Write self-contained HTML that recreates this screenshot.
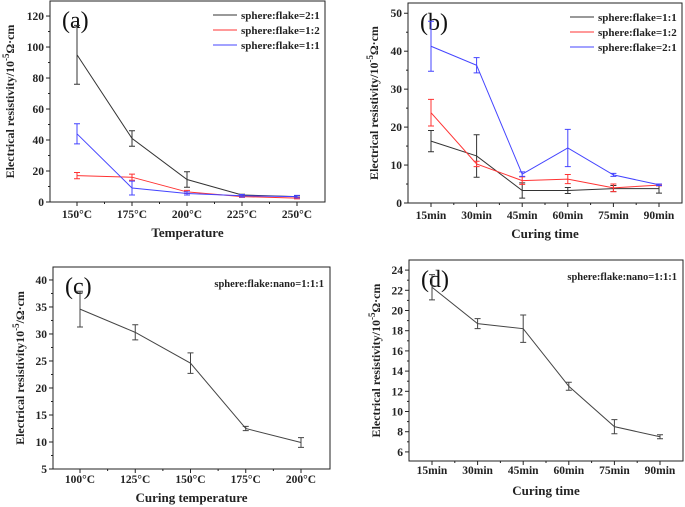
<!DOCTYPE html>
<html><head><meta charset="utf-8"><style>
body{margin:0;background:#fff;width:685px;height:507px;overflow:hidden}
svg{display:block;font-family:"Liberation Serif",serif}
</style></head><body>
<svg id="fig" width="685" height="507" viewBox="0 0 685 507"></svg>
<script>
// Panel (a)
const aCats=["150°C","175°C","200°C","225°C","250°C"];
const aS1=[95,41,14.5,4.5,3.5], aS1e=[19,5,5,0.5,0.5];
const aS2=[17,16,6.5,3.5,2.5], aS2e=[2,2,1,0.5,0.5];
const aS3=[44,9,5.5,4,3.5], aS3e=[6.5,4.5,1,0.8,0.8];
const aTicks=[0,20,40,60,80,100,120];
// Panel (b)
const bCats=["15min","30min","45min","60min","75min","90min"];
const bS1=[16.3,12.4,3.3,3.3,3.8,3.8], bS1e=[2.8,5.6,2,0.8,0.8,1.2];
const bS2=[23.8,10.3,5.9,6.3,4,4.7], bS2e=[3.5,0.7,1,1.2,1,0.2];
const bS3=[41.3,36.3,7.6,14.5,7.4,4.8], bS3e=[6.6,2,0.6,4.9,0.4,0.2];
const bTicks=[0,10,20,30,40,50];
// Panel (c)
const cCats=["100°C","125°C","150°C","175°C","200°C"];
const cS=[34.6,30.3,24.6,12.5,9.9], cSe=[3.3,1.4,1.9,0.4,0.9];
const cTicks=[5,10,15,20,25,30,35,40];
// Panel (d)
const dCats=["15min","30min","45min","60min","75min","90min"];
const dS=[22.3,18.7,18.2,12.5,8.5,7.5], dSe=[1.25,0.5,1.35,0.4,0.7,0.2];
const dTicks=[6,8,10,12,14,16,18,20,22,24];

const NS="http://www.w3.org/2000/svg";
const fig=document.getElementById('fig');
function mk(tag,attrs,parent,text){const e=document.createElementNS(NS,tag);for(const k in attrs)e.setAttribute(k,attrs[k]);if(text!==undefined)e.textContent=text;(parent||fig).appendChild(e);return e;}

function panel(p){
  const g=mk('g',{});
  
  
  const yS=v=>p.bottom-(v-p.ymin)/(p.ymax-p.ymin)*(p.bottom-p.top);
  const xS=i=>p.x0+i*(p.x1-p.x0)/(p.cats.length-1);
  const box=mk('rect',{x:p.left,y:p.top,width:p.right-p.left,height:p.bottom-p.top,fill:'none',stroke:'#222','stroke-width':1},g);
  
  
  p.ticks.forEach((t,i)=>{
    const y=yS(t);
    mk('line',{x1:p.left-4,x2:p.left,y1:y,y2:y,stroke:'#222'},g);
    const lb=mk('text',{x:p.left-6,y:y+4,'text-anchor':'end','font-size':11.5,'font-weight':'bold',fill:'#222'},g,t);
    
    
    if(i<p.ticks.length-1){const m=yS((t+p.ticks[i+1])/2);mk('line',{x1:p.left-2,x2:p.left,y1:m,y2:m,stroke:'#222'},g);}
  });
  p.cats.forEach((c,i)=>{
    const x=xS(i);
    mk('line',{x1:x,x2:x,y1:p.bottom,y2:p.bottom+4,stroke:'#222'},g);
    if(i<p.cats.length-1){const m=(x+xS(i+1))/2;mk('line',{x1:m,x2:m,y1:p.bottom,y2:p.bottom+2,stroke:'#222'},g);}
    const lb=mk('text',{x:x,y:p.bottom+p.tly,'text-anchor':'middle','font-size':11.5,'font-weight':'bold',fill:'#222'},g,c);
    
    
  });
  const xt=mk('text',{x:(p.left+p.right)/2,y:p.bottom+p.tty,'text-anchor':'middle','font-size':13,'font-weight':'bold',fill:'#222'},g,p.xtitle);
  
  
  const cy=(p.top+p.bottom)/2;
  const yt=mk('text',{x:p.ytx,y:cy,'text-anchor':'middle','font-size':12,'font-weight':'bold',fill:'#222',transform:`rotate(-90 ${p.ytx} ${cy})`},g);
  
  
  mk('tspan',{},yt,p.ytA);
  mk('tspan',{dy:-5,'font-size':9},yt,'-5');
  mk('tspan',{dy:5},yt,p.ytB);
  const pl=mk('text',{x:p.left+12,y:p.top+27,'font-size':24,fill:'#111'},g,'('+p.id+')');
  
  
  p.series.forEach((s,si)=>{
    const pts=s.v.map((v,i)=>xS(i)+','+yS(v)).join(' ');
    const ln=mk('polyline',{points:pts,fill:'none',stroke:s.c,'stroke-width':1},g);
    
    
    s.v.forEach((v,i)=>{
      const x=xS(i),ya=yS(v+s.e[i]),yb=yS(v-s.e[i]);
      const eb=mk('path',{d:`M${x},${ya}V${yb}M${x-3},${ya}H${x+3}M${x-3},${yb}H${x+3}`,stroke:s.c,fill:'none','stroke-width':1},g);
      
      
    });
    if(s.label){
      const ly=p.top+14+si*15;
      mk('line',{x1:p.right-112,x2:p.right-88,y1:ly,y2:ly,stroke:s.c},g);
      const lt=mk('text',{x:p.right-84,y:ly+4,'font-size':11,'font-weight':'bold',fill:'#222'},g,s.label);
      
      
    }
  });
  if(p.note){
    const nt=mk('text',{x:p.right-6,y:p.top+20,'text-anchor':'end','font-size':10.5,'font-weight':'bold',fill:'#222'},g,p.note);
    
    
  }
}
panel({id:'a',left:50,right:325,top:1,bottom:202,ymin:0,ymax:129.7,x0:77,x1:297,cats:aCats,ticks:aTicks,tly:16,tty:35,
  xtitle:'Temperature',ytx:14,ytA:'Electrical resistivity/10',ytB:'Ω·cm',
  series:[{v:aS1,e:aS1e,c:'#333',label:'sphere:flake=2:1'},{v:aS2,e:aS2e,c:'#f33',label:'sphere:flake=1:2'},{v:aS3,e:aS3e,c:'#44f',label:'sphere:flake=1:1'}]});
panel({id:'b',left:408,right:682,top:3,bottom:203,ymin:0,ymax:52.7,x0:431,x1:659,cats:bCats,ticks:bTicks,tly:16,tty:35,
  xtitle:'Curing time',ytx:378,ytA:'Electrical resistivity/10',ytB:'Ω·cm',
  series:[{v:bS1,e:bS1e,c:'#333',label:'sphere:flake=1:1'},{v:bS2,e:bS2e,c:'#f33',label:'sphere:flake=1:2'},{v:bS3,e:bS3e,c:'#44f',label:'sphere:flake=2:1'}]});
panel({id:'c',left:53,right:330,top:267,bottom:469,ymin:5,ymax:42.4,x0:80,x1:301,cats:cCats,ticks:cTicks,tly:14,tty:33,
  xtitle:'Curing temperature',ytx:24,ytA:'Electrical resistivity10',ytB:'/Ω·cm',note:'sphere:flake:nano=1:1:1',
  series:[{v:cS,e:cSe,c:'#444'}]});
panel({id:'d',left:409,right:683,top:260,bottom:461,ymin:5.1,ymax:25,x0:432,x1:660,cats:dCats,ticks:dTicks,tly:13,tty:34,
  xtitle:'Curing time',ytx:380,ytA:'Electrical resistivity/10',ytB:'Ω·cm',note:'sphere:flake:nano=1:1:1',
  series:[{v:dS,e:dSe,c:'#444'}]});
</script>
</body></html>
